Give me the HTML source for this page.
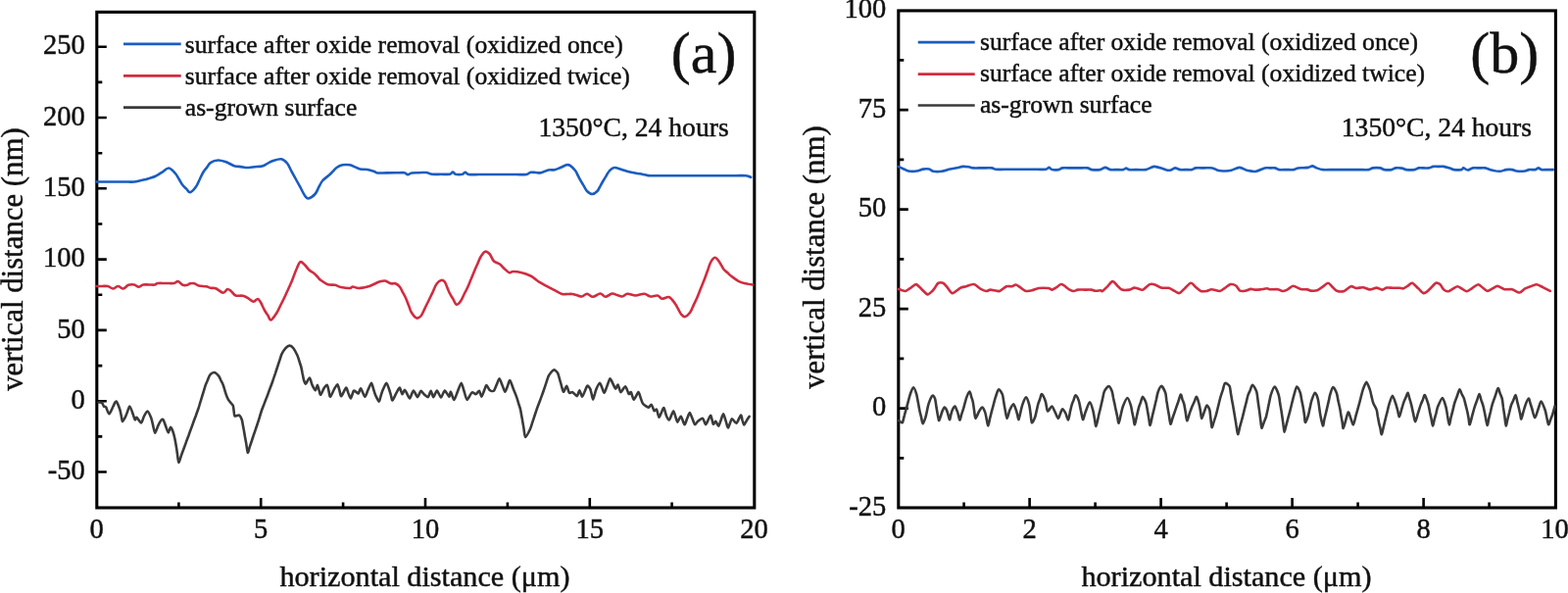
<!DOCTYPE html>
<html><head><meta charset="utf-8"><style>
html,body{margin:0;padding:0;background:#fff;}
body{width:1600px;height:605px;overflow:hidden;}
svg{display:block;}
text{font-family:"Liberation Serif","Times New Roman",serif;fill:#111;stroke:#111;stroke-width:0.45px;}
.tk{font-size:28.5px;}
.lg{font-size:25.6px;}
.pl{font-size:60px;}
.nt{font-size:27.6px;}
.at{font-size:30.2px;}
.ay{font-size:30.8px;}
</style></head><body>
<svg width="1600" height="605" viewBox="0 0 1600 605">
<rect width="1600" height="605" fill="#fff"/>
<rect x="98.8" y="12.3" width="671.0" height="505.7" fill="none" stroke="#000" stroke-width="3.1" stroke-linejoin="miter"/>
<path d="M266.2 518.0V508.0M434.0 518.0V508.0M601.8 518.0V508.0M182.4 518.0V512.5M350.1 518.0V512.5M517.9 518.0V512.5M685.6 518.0V512.5M98.8 481.5H108.8M98.8 409.2H108.8M98.8 336.9H108.8M98.8 264.6H108.8M98.8 192.3H108.8M98.8 120.0H108.8M98.8 47.7H108.8M98.8 445.4H104.3M98.8 373.1H104.3M98.8 300.8H104.3M98.8 228.5H104.3M98.8 156.2H104.3M98.8 83.9H104.3" stroke="#000" stroke-width="2.6" fill="none"/>
<text x="98.5" y="549" class="tk" text-anchor="middle">0</text>
<text x="266.2" y="549" class="tk" text-anchor="middle">5</text>
<text x="434.0" y="549" class="tk" text-anchor="middle">10</text>
<text x="601.8" y="549" class="tk" text-anchor="middle">15</text>
<text x="769.5" y="549" class="tk" text-anchor="middle">20</text>
<text x="86.7" y="489.1" class="tk" text-anchor="end">-50</text>
<text x="86.7" y="416.8" class="tk" text-anchor="end">0</text>
<text x="86.7" y="344.5" class="tk" text-anchor="end">50</text>
<text x="86.7" y="272.2" class="tk" text-anchor="end">100</text>
<text x="86.7" y="199.9" class="tk" text-anchor="end">150</text>
<text x="86.7" y="127.6" class="tk" text-anchor="end">200</text>
<text x="86.7" y="55.3" class="tk" text-anchor="end">250</text>
<rect x="916.8" y="10.9" width="670.6" height="507.1" fill="none" stroke="#000" stroke-width="3.1" stroke-linejoin="miter"/>
<path d="M1050.6 518.0V508.0M1184.6 518.0V508.0M1318.6 518.0V508.0M1452.6 518.0V508.0M983.6 518.0V512.5M1117.6 518.0V512.5M1251.6 518.0V512.5M1385.6 518.0V512.5M1519.6 518.0V512.5M916.8 416.6H926.8M916.8 315.1H926.8M916.8 213.6H926.8M916.8 112.1H926.8M916.8 467.4H922.3M916.8 365.9H922.3M916.8 264.4H922.3M916.8 162.9H922.3M916.8 61.4H922.3" stroke="#000" stroke-width="2.6" fill="none"/>
<text x="916.6" y="549" class="tk" text-anchor="middle">0</text>
<text x="1050.6" y="549" class="tk" text-anchor="middle">2</text>
<text x="1184.6" y="549" class="tk" text-anchor="middle">4</text>
<text x="1318.6" y="549" class="tk" text-anchor="middle">6</text>
<text x="1452.6" y="549" class="tk" text-anchor="middle">8</text>
<text x="1586.6" y="549" class="tk" text-anchor="middle">10</text>
<text x="904.3" y="525.7" class="tk" text-anchor="end">-25</text>
<text x="904.3" y="424.2" class="tk" text-anchor="end">0</text>
<text x="904.3" y="322.7" class="tk" text-anchor="end">25</text>
<text x="904.3" y="221.2" class="tk" text-anchor="end">50</text>
<text x="904.3" y="119.7" class="tk" text-anchor="end">75</text>
<text x="904.3" y="18.2" class="tk" text-anchor="end">100</text>
<path d="M98.0 185.5C99.6 185.5 104.5 185.5 107.8 185.5C111.0 185.5 114.2 185.5 117.5 185.5C120.8 185.5 124.0 185.5 127.2 185.5C130.5 185.5 134.5 185.7 137.0 185.5C139.5 185.3 140.5 184.8 142.2 184.4C144.0 184.0 145.8 183.8 147.5 183.3C149.2 182.8 151.0 182.2 152.8 181.7C154.5 181.1 155.9 181.0 158.0 180.0C160.1 179.0 162.8 177.2 165.2 175.8C167.5 174.3 170.0 171.3 172.3 171.5C174.6 171.7 177.3 175.1 179.0 177.0C180.7 178.9 181.5 181.0 182.8 183.0C184.0 185.0 185.2 187.4 186.5 189.0C187.8 190.6 189.0 191.4 190.2 192.6C191.5 193.8 192.4 196.5 194.0 196.2C195.6 195.8 198.4 192.7 200.0 190.5C201.6 188.3 202.5 185.5 203.8 183.0C205.0 180.5 206.2 177.6 207.5 175.5C208.8 173.4 210.0 172.2 211.2 170.6C212.5 169.0 213.1 166.9 215.0 165.8C216.9 164.6 220.0 163.6 222.5 163.5C225.0 163.4 227.2 164.1 230.0 165.0C232.8 165.9 236.4 168.3 239.0 169.2C241.6 170.0 243.5 169.8 245.8 170.1C248.0 170.4 250.1 171.0 252.5 171.0C254.9 171.0 257.5 170.5 260.0 170.2C262.5 170.0 265.4 170.1 267.5 169.5C269.6 168.9 271.0 167.8 272.8 166.9C274.5 166.0 275.6 165.0 278.0 164.2C280.4 163.5 284.5 161.9 287.0 162.3C289.5 162.7 291.2 164.4 293.0 166.5C294.8 168.6 296.0 172.0 297.5 174.8C299.0 177.5 300.5 180.2 302.0 183.0C303.5 185.8 305.0 188.5 306.5 191.2C308.0 194.0 309.6 197.6 311.0 199.5C312.4 201.4 312.9 202.8 314.7 202.5C316.4 202.2 319.7 199.9 321.5 198.0C323.3 196.1 324.0 193.5 325.2 191.2C326.5 189.0 327.2 186.6 329.0 184.5C330.8 182.4 334.2 180.1 336.0 178.5C337.8 176.9 338.5 176.0 339.8 174.8C341.0 173.5 341.9 172.1 343.5 171.0C345.1 169.9 347.2 168.8 349.5 168.3C351.8 167.9 354.9 168.0 357.0 168.3C359.1 168.7 360.5 169.7 362.2 170.4C364.0 171.1 365.4 172.1 367.5 172.5C369.6 172.9 372.5 172.6 375.0 173.0C377.5 173.4 380.8 174.6 382.5 175.2C384.2 175.8 383.5 176.3 385.5 176.5C387.5 176.7 391.5 176.4 394.5 176.4C397.5 176.4 400.5 176.4 403.5 176.3C406.5 176.3 410.4 175.9 412.5 176.2C414.6 176.6 414.9 178.2 416.2 178.2C417.4 178.2 418.1 176.8 420.0 176.5C421.9 176.2 425.0 176.3 427.5 176.2C430.0 176.2 432.8 175.8 435.0 176.0C437.2 176.2 438.5 177.5 441.0 177.8C443.5 178.0 447.0 177.8 450.0 177.8C453.0 177.8 457.0 178.1 459.0 177.8C461.0 177.4 461.0 175.5 462.0 175.5C463.0 175.5 463.4 177.4 465.0 177.8C466.6 178.1 470.1 178.1 471.8 177.8C473.4 177.4 473.6 175.8 474.8 175.8C475.9 175.8 476.2 177.6 478.5 178.0C480.8 178.4 485.0 178.0 488.2 178.0C491.5 178.0 494.8 178.0 498.0 178.0C501.2 178.0 504.5 178.0 507.8 178.0C511.0 178.0 514.2 178.0 517.5 178.0C520.8 178.0 524.0 178.0 527.2 178.0C530.5 178.0 534.6 178.4 537.0 178.0C539.4 177.6 539.9 176.1 541.5 175.8C543.1 175.5 545.0 176.0 546.8 176.0C548.5 176.1 549.9 176.7 552.0 176.2C554.1 175.8 557.2 174.0 559.5 173.5C561.8 173.0 563.9 173.7 566.0 173.2C568.1 172.8 570.0 171.8 572.0 171.0C574.0 170.2 576.4 168.7 578.0 168.3C579.6 167.9 580.2 167.8 581.8 168.8C583.2 169.7 585.6 172.2 587.0 174.0C588.4 175.8 589.0 177.8 590.0 179.6C591.0 181.5 592.0 183.5 593.0 185.2C594.0 187.0 595.0 188.5 596.0 190.1C597.0 191.8 597.6 193.7 599.0 195.0C600.4 196.3 602.5 198.0 604.2 198.0C606.0 198.0 608.1 196.4 609.5 195.0C610.9 193.6 611.5 191.5 612.5 189.8C613.5 188.0 614.5 186.2 615.5 184.5C616.5 182.8 617.5 181.2 618.5 179.6C619.5 178.0 620.1 176.2 621.5 174.8C622.9 173.3 624.5 171.2 626.8 171.0C629.0 170.8 632.1 172.4 635.0 173.2C637.9 174.1 641.0 175.1 644.0 175.8C647.0 176.5 650.6 176.9 653.0 177.3C655.4 177.7 656.5 178.0 658.2 178.3C660.0 178.6 661.0 179.1 663.5 179.2C666.0 179.4 670.0 179.2 673.2 179.2C676.5 179.2 679.8 179.2 683.0 179.2C686.2 179.2 689.5 179.2 692.8 179.2C696.0 179.2 699.2 179.2 702.5 179.2C705.8 179.2 709.0 179.2 712.2 179.2C715.5 179.2 718.8 179.2 722.0 179.2C725.2 179.2 728.5 179.2 731.8 179.2C735.0 179.2 738.2 179.2 741.5 179.2C744.8 179.2 748.0 179.2 751.2 179.2C754.5 179.2 758.5 179.0 761.0 179.2C763.5 179.5 765.4 180.5 766.2 180.8" stroke="#1a5cc0" stroke-width="2.6" fill="none" stroke-linejoin="round" stroke-linecap="round"/>
<path d="M98.0 292.0C99.0 292.0 102.0 292.0 104.0 292.0C106.0 292.0 108.1 291.6 110.0 292.0C111.9 292.4 113.5 294.5 115.2 294.5C117.0 294.5 118.8 292.0 120.5 292.0C122.2 292.0 124.0 294.7 125.8 294.5C127.5 294.3 129.1 291.5 131.0 290.8C132.9 290.1 135.2 290.2 137.0 290.5C138.8 290.8 140.0 292.8 141.5 292.8C143.0 292.8 144.2 290.9 146.0 290.5C147.8 290.1 150.0 290.5 152.0 290.5C154.0 290.5 156.5 290.8 158.0 290.5C159.5 290.2 159.1 289.2 161.0 289.0C162.9 288.8 166.5 289.0 169.2 289.0C172.0 289.0 175.4 289.3 177.5 289.0C179.6 288.7 180.2 286.7 181.7 287.0C183.2 287.3 184.9 290.2 186.5 290.8C188.1 291.4 189.8 291.1 191.0 290.8C192.2 290.6 192.8 289.6 194.0 289.3C195.2 289.1 197.0 288.9 198.5 289.3C200.0 289.7 201.0 291.0 203.0 291.5C205.0 292.0 208.5 291.9 210.5 292.3C212.5 292.7 213.4 293.5 215.0 293.8C216.6 294.1 218.1 293.4 220.2 294.2C222.4 295.1 225.8 298.6 227.8 298.8C229.8 298.9 230.9 295.2 232.2 295.0C233.6 294.8 234.6 296.2 236.0 297.2C237.4 298.3 238.5 300.8 240.5 301.5C242.5 302.2 245.8 301.2 248.0 301.8C250.2 302.3 252.2 303.8 254.0 304.8C255.8 305.8 257.0 307.7 258.5 307.8C260.0 307.8 261.8 304.9 263.0 305.0C264.2 305.1 265.1 307.2 266.0 308.5C266.9 309.8 267.5 311.5 268.2 313.0C269.0 314.5 269.6 316.0 270.5 317.5C271.4 319.0 272.5 320.5 273.5 322.0C274.5 323.5 275.0 327.0 276.5 326.5C278.0 326.0 280.9 321.5 282.5 319.0C284.1 316.5 285.0 314.0 286.2 311.5C287.5 309.0 288.8 306.6 290.0 304.0C291.2 301.4 292.5 298.5 293.8 295.8C295.0 293.0 296.4 290.0 297.5 287.5C298.6 285.0 299.2 283.0 300.1 280.8C301.0 278.5 301.7 276.2 302.8 274.0C303.8 271.8 305.1 267.9 306.5 267.2C307.9 266.6 309.5 268.9 311.0 270.2C312.5 271.6 314.0 274.1 315.5 275.5C317.0 276.9 318.6 277.4 320.0 278.5C321.4 279.6 322.5 281.0 323.8 282.2C325.0 283.5 325.7 284.7 327.5 286.0C329.3 287.3 332.1 289.4 334.5 290.2C336.9 291.0 339.8 290.3 342.0 290.8C344.2 291.3 345.5 292.5 348.0 293.0C350.5 293.5 355.0 294.1 357.0 294.0C359.0 293.9 358.5 292.5 360.0 292.5C361.5 292.5 363.5 294.0 366.0 294.0C368.5 294.0 372.5 293.1 375.0 292.5C377.5 291.9 379.0 291.0 381.0 290.2C383.0 289.4 385.0 288.1 387.0 287.5C389.0 286.9 391.0 286.2 393.0 286.5C395.0 286.8 397.2 288.8 399.0 289.3C400.8 289.8 402.0 288.7 403.5 289.3C405.0 289.9 406.8 291.2 408.0 292.8C409.2 294.3 410.0 296.5 411.0 298.4C412.0 300.2 413.0 301.8 414.0 304.0C415.0 306.2 416.0 309.0 417.0 311.5C418.0 314.0 418.6 316.8 420.0 319.0C421.4 321.2 423.6 324.0 425.2 324.5C426.9 325.0 428.3 323.8 429.8 322.0C431.2 320.2 432.5 316.5 433.9 313.8C435.2 311.0 436.7 308.2 438.0 305.5C439.3 302.8 440.5 300.2 441.8 297.6C443.0 295.0 444.1 291.7 445.5 289.8C446.9 287.8 448.6 286.4 450.0 286.0C451.4 285.6 452.7 286.2 453.8 287.5C454.8 288.8 455.5 291.5 456.4 293.5C457.2 295.5 458.0 297.6 459.0 299.5C460.0 301.4 461.2 303.2 462.4 305.1C463.5 307.0 464.4 310.4 465.8 310.8C467.1 311.1 468.9 308.8 470.2 307.0C471.6 305.2 472.5 302.5 473.6 300.2C474.8 298.0 475.8 296.1 477.0 293.5C478.2 290.9 479.5 287.5 480.8 284.5C482.0 281.5 483.4 278.1 484.5 275.5C485.6 272.9 486.5 271.0 487.5 268.8C488.5 266.5 489.2 264.0 490.5 262.0C491.8 260.0 493.5 257.2 495.0 256.8C496.5 256.2 498.0 257.4 499.5 259.0C501.0 260.6 502.2 264.8 504.0 266.5C505.8 268.2 508.2 268.2 510.0 269.5C511.8 270.8 512.9 272.6 514.5 274.0C516.1 275.4 518.2 277.7 519.8 278.2C521.2 278.7 521.4 277.0 523.5 277.0C525.6 277.0 529.5 277.4 532.5 278.2C535.5 278.9 539.2 280.4 541.5 281.5C543.8 282.6 544.5 283.6 546.0 284.6C547.5 285.7 549.0 286.9 550.5 287.8C552.0 288.7 553.5 289.4 555.0 290.3C556.5 291.1 557.7 291.8 559.5 292.8C561.3 293.7 563.7 295.0 566.0 296.2C568.3 297.4 571.4 299.4 573.5 300.0C575.6 300.6 577.0 300.0 578.8 300.0C580.5 300.0 582.3 299.8 584.0 300.0C585.7 300.2 587.2 300.8 588.9 301.2C590.5 301.7 592.1 302.7 593.8 302.5C595.4 302.3 597.1 299.8 599.0 299.8C600.9 299.9 602.8 302.9 605.0 302.8C607.2 302.8 610.4 299.5 612.5 299.5C614.6 299.5 615.8 302.8 617.8 302.8C619.8 302.8 622.5 299.8 624.5 299.5C626.5 299.2 628.0 300.5 629.8 301.0C631.5 301.5 633.2 302.7 635.0 302.5C636.8 302.3 638.0 300.0 640.2 299.8C642.5 299.6 645.6 301.5 648.5 301.5C651.4 301.5 655.0 299.6 657.5 299.8C660.0 300.0 661.2 302.2 663.5 302.5C665.8 302.8 669.0 301.1 671.0 301.5C673.0 301.9 673.5 304.5 675.5 304.8C677.5 305.0 680.8 302.4 683.0 303.2C685.2 304.1 687.5 308.0 689.0 310.0C690.5 312.0 691.0 313.5 692.0 315.2C693.0 317.0 693.9 319.2 695.0 320.5C696.1 321.8 697.2 323.4 698.8 323.2C700.2 322.9 702.5 321.0 704.0 319.0C705.5 317.0 706.5 313.8 707.8 311.1C709.0 308.5 710.5 305.6 711.5 303.2C712.5 300.9 713.2 299.1 714.0 297.0C714.8 294.9 715.7 292.8 716.5 290.8C717.3 288.7 718.1 286.9 719.0 284.5C719.9 282.1 721.0 279.0 722.0 276.2C723.0 273.5 723.8 270.2 725.0 268.0C726.2 265.8 728.0 262.9 729.5 262.8C731.0 262.6 732.5 265.2 734.0 267.2C735.5 269.2 737.1 272.9 738.5 274.8C739.9 276.6 741.0 277.0 742.2 278.1C743.5 279.2 744.1 280.1 746.0 281.5C747.9 282.9 751.0 285.4 753.5 286.8C756.0 288.1 758.6 288.7 761.0 289.3C763.4 289.9 766.6 290.3 767.8 290.5" stroke="#d02c40" stroke-width="2.6" fill="none" stroke-linejoin="round" stroke-linecap="round"/>
<path d="M100.5 410.5C100.9 410.5 103.5 410.4 104.1 410.9C104.7 411.4 105.4 414.0 105.9 414.5C106.4 415.0 107.6 414.6 108.2 415.5C108.8 416.4 110.5 422.4 111.4 422.3C112.3 422.2 114.7 416.0 115.5 414.5C116.3 413.0 117.8 409.1 118.6 409.5C119.4 409.9 121.7 416.0 122.3 417.7C122.9 419.4 123.3 422.4 123.7 423.9C124.0 425.3 124.5 429.8 125.0 430.0C125.5 430.2 127.1 427.0 127.7 425.9C128.3 424.8 129.5 421.5 130.0 420.2C130.5 418.9 131.7 414.5 132.3 414.5C132.9 414.5 134.4 418.9 135.0 420.5C135.6 422.1 137.2 427.6 137.7 428.2C138.2 428.8 138.8 425.5 139.5 425.9C140.2 426.3 143.2 431.5 144.1 431.4C145.0 431.3 146.1 426.4 146.8 425.0C147.5 423.6 149.6 419.4 150.5 419.5C151.4 419.6 153.4 424.2 154.1 425.9C154.8 427.6 155.7 432.0 156.1 433.9C156.6 435.7 157.6 441.8 158.2 441.8C158.8 441.8 160.6 435.7 161.4 434.1C162.2 432.5 164.4 428.8 165.0 428.2C165.6 427.6 166.3 427.7 166.8 428.6C167.3 429.5 168.9 434.4 169.5 435.9C170.1 437.4 171.3 441.4 171.8 441.4C172.3 441.4 173.5 435.9 174.1 435.9C174.7 435.9 176.3 439.9 176.8 441.4C177.3 442.9 178.3 447.2 178.6 448.6C178.9 450.0 179.2 452.0 179.5 453.6C179.8 455.2 180.6 460.6 180.9 462.7C181.2 464.8 181.8 471.6 182.3 471.8C182.8 472.0 184.4 466.2 185.0 464.6C185.6 462.9 187.1 458.9 187.7 457.3C188.3 455.7 189.6 452.2 190.1 450.6C190.7 449.1 192.0 445.5 192.6 444.0C193.1 442.4 194.4 438.9 195.0 437.3C195.6 435.7 196.9 432.2 197.4 430.6C198.0 429.1 199.3 425.5 199.9 424.0C200.4 422.4 201.7 419.0 202.3 417.3C202.9 415.6 204.1 411.2 204.7 409.4C205.3 407.6 206.5 403.3 207.1 401.5C207.7 399.7 209.0 395.2 209.5 393.6C210.0 392.0 211.3 389.4 211.8 388.1C212.3 386.9 213.3 383.7 214.1 382.7C214.9 381.7 217.5 379.9 218.6 380.0C219.7 380.1 222.4 382.6 223.2 383.6C224.0 384.6 224.9 387.1 225.4 388.1C226.0 389.2 227.1 391.1 227.7 392.7C228.3 394.3 229.9 400.0 230.5 401.8C231.1 403.6 232.4 406.8 233.2 408.2C234.0 409.6 237.1 412.3 237.7 413.6C238.3 414.9 238.4 417.8 238.6 419.1C238.8 420.3 238.9 424.0 239.5 424.5C240.1 425.0 243.2 423.2 244.1 423.6C245.0 424.0 246.3 426.8 246.8 428.2C247.3 429.6 247.8 433.8 248.2 435.4C248.5 437.1 249.2 440.7 249.5 442.7C249.8 444.7 250.8 450.0 251.2 452.2C251.5 454.5 252.4 461.4 252.8 461.8C253.2 462.2 254.3 457.3 254.8 455.9C255.3 454.5 256.3 451.5 256.8 450.0C257.3 448.5 258.7 444.4 259.2 442.7C259.8 441.0 261.1 437.2 261.7 435.5C262.2 433.8 263.5 430.2 264.1 428.2C264.7 426.2 266.3 420.7 267.0 418.7C267.7 416.7 269.3 412.9 269.9 411.1C270.6 409.3 272.2 405.2 272.9 403.5C273.6 401.8 274.9 397.9 275.5 396.2C276.2 394.6 277.6 390.8 278.2 389.0C278.8 387.2 280.2 382.9 280.9 381.1C281.5 379.2 283.0 374.7 283.5 373.1C284.0 371.5 285.0 368.5 285.5 367.1C286.0 365.8 286.8 362.6 287.5 361.2C288.2 359.8 290.6 356.2 291.5 355.2C292.4 354.2 294.5 352.6 295.4 352.6C296.3 352.6 298.5 354.0 299.4 355.2C300.3 356.4 302.7 361.0 303.4 362.5C304.1 364.0 304.9 367.1 305.4 368.4C305.8 369.8 306.9 372.9 307.3 374.4C307.7 375.9 308.3 379.5 308.6 381.0C309.0 382.5 309.6 386.4 310.0 387.6C310.4 388.8 311.3 391.8 312.0 391.6C312.7 391.4 315.1 385.4 315.9 385.6C316.7 385.8 317.9 391.4 318.6 392.9C319.3 394.4 321.3 398.2 321.9 398.2C322.5 398.2 323.5 392.9 323.9 392.9C324.3 392.9 325.2 396.7 325.5 397.9C325.9 399.0 326.6 403.0 327.2 402.8C327.8 402.6 329.7 397.4 330.5 396.2C331.3 395.0 333.2 392.6 333.8 392.9C334.4 393.2 335.1 397.5 335.5 398.9C335.8 400.2 336.4 405.0 337.1 404.8C337.8 404.6 340.2 398.4 341.1 396.9C342.0 395.4 343.8 392.0 344.4 392.2C345.0 392.4 345.9 396.8 346.4 398.2C346.8 399.6 347.5 404.5 348.3 404.2C349.1 403.9 352.2 396.0 353.0 395.6C353.8 395.2 354.9 399.7 355.4 401.0C356.0 402.3 357.3 406.6 357.9 406.4C358.5 406.2 360.2 399.7 360.8 398.9C361.4 398.1 362.7 399.5 363.3 399.8C363.9 400.1 365.1 401.8 365.7 401.4C366.3 401.0 367.4 396.0 368.2 396.4C369.0 396.8 371.5 404.6 372.4 404.7C373.3 404.8 374.9 398.9 375.7 397.3C376.5 395.7 378.4 390.7 379.0 390.7C379.6 390.7 380.6 395.5 381.1 396.9C381.5 398.3 382.4 401.6 383.1 403.1C383.8 404.6 386.2 409.6 386.8 409.7C387.4 409.8 388.2 405.3 388.6 403.9C389.1 402.5 389.8 399.6 390.5 398.1C391.2 396.6 393.5 390.8 394.3 390.7C395.1 390.6 396.6 395.9 397.1 397.3C397.6 398.7 398.4 401.6 398.8 402.9C399.2 404.1 399.8 408.7 400.5 408.4C401.2 408.1 403.7 402.1 404.6 400.6C405.5 399.1 407.2 395.4 407.9 395.6C408.6 395.8 409.8 402.0 410.4 402.2C411.0 402.4 412.3 397.7 412.9 397.7C413.5 397.7 414.9 401.0 415.5 402.0C416.2 403.1 417.5 406.8 418.2 406.4C418.9 406.0 421.0 398.7 421.9 398.5C422.8 398.3 425.2 405.1 426.1 405.1C427.0 405.1 428.6 399.2 429.4 398.9C430.2 398.6 431.8 401.5 432.7 402.2C433.6 402.9 436.0 405.5 436.8 405.1C437.6 404.7 439.1 398.9 439.7 398.9C440.3 398.9 441.5 405.1 442.2 405.1C442.9 405.1 445.0 398.5 445.9 398.5C446.8 398.5 449.1 405.5 450.0 405.5C450.9 405.5 452.8 398.6 453.8 398.5C454.8 398.4 457.6 404.5 458.3 404.7C459.0 404.9 459.4 399.4 460.0 399.8C460.6 400.2 462.5 408.1 463.3 408.0C464.1 407.9 466.1 401.4 467.0 399.4C467.9 397.3 469.9 390.7 470.7 390.7C471.5 390.7 473.0 397.3 473.6 399.3C474.3 401.3 475.7 407.8 476.6 407.9C477.5 408.0 480.4 401.2 481.5 400.5C482.6 399.8 484.8 402.3 485.7 402.1C486.6 401.9 488.3 398.5 489.0 398.8C489.7 399.1 490.8 404.6 491.4 404.6C492.0 404.6 493.3 400.2 493.9 398.9C494.5 397.5 495.7 393.2 496.4 393.1C497.1 393.0 498.8 397.3 499.7 398.0C500.6 398.7 503.0 399.4 503.8 398.8C504.6 398.2 506.0 394.0 506.7 392.6C507.4 391.2 508.9 386.3 509.6 386.4C510.3 386.5 511.8 391.5 512.5 393.0C513.2 394.6 514.8 399.6 515.4 399.7C516.0 399.8 517.3 395.3 517.9 393.9C518.5 392.5 519.7 387.8 520.4 388.1C521.1 388.4 522.9 394.4 523.7 396.4C524.5 398.3 526.4 402.9 527.0 404.6C527.6 406.3 528.6 409.7 529.0 411.2C529.5 412.8 530.7 416.0 531.1 417.9C531.5 419.8 532.4 425.1 532.8 427.3C533.2 429.5 534.0 434.4 534.4 436.6C534.8 438.8 535.3 445.9 536.1 446.0C536.9 446.1 540.2 439.4 541.0 437.7C541.8 436.0 542.7 432.6 543.2 431.1C543.7 429.6 544.9 426.0 545.4 424.5C545.9 423.0 547.0 419.7 547.6 417.9C548.2 416.1 550.2 410.9 551.0 408.8C551.7 406.7 553.6 401.7 554.3 399.7C555.0 397.7 556.5 393.3 557.1 391.4C557.8 389.5 559.1 384.7 560.0 383.1C560.9 381.5 563.9 377.7 565.0 377.4C566.1 377.1 568.3 379.2 569.1 380.7C569.9 382.2 571.3 388.0 572.0 390.2C572.7 392.4 574.2 399.3 574.9 399.7C575.6 400.1 577.5 393.8 578.2 393.9C578.9 394.0 580.1 400.0 580.8 400.7C581.5 401.4 583.4 399.7 584.3 400.1C585.2 400.5 588.1 404.3 588.9 404.1C589.7 403.9 590.6 398.3 591.2 398.4C591.8 398.5 593.5 404.6 594.1 404.7C594.7 404.8 596.1 400.5 596.7 399.2C597.3 397.9 598.7 394.0 599.3 393.7C599.9 393.4 601.7 395.6 602.2 396.6C602.7 397.6 603.3 400.8 603.7 402.1C604.0 403.4 604.7 407.6 605.1 407.6C605.5 407.6 606.4 403.4 606.9 402.1C607.3 400.8 608.0 397.9 608.6 396.6C609.2 395.3 611.3 390.9 612.0 390.8C612.7 390.7 613.8 394.6 614.4 395.8C614.9 396.9 616.1 401.0 616.7 400.7C617.3 400.4 618.9 395.1 619.6 393.4C620.3 391.8 621.8 386.4 622.5 386.2C623.2 386.0 624.7 390.2 625.4 391.4C626.0 392.6 627.6 396.5 628.2 396.6C628.8 396.7 630.0 392.2 630.6 392.6C631.2 393.0 632.5 399.9 633.4 400.1C634.3 400.3 637.1 394.1 638.1 394.3C639.1 394.5 640.9 401.1 641.6 401.8C642.3 402.5 643.3 399.4 643.9 400.1C644.5 400.8 645.9 407.6 646.8 407.6C647.7 407.6 650.6 400.3 651.4 400.1C652.2 399.9 653.2 404.5 653.7 405.9C654.2 407.3 655.1 410.6 656.0 411.7C656.9 412.8 660.8 415.6 661.8 415.7C662.8 415.8 664.0 412.4 664.7 412.8C665.4 413.2 666.9 418.4 667.5 419.0C668.1 419.6 669.4 417.0 670.0 417.8C670.6 418.6 671.8 425.2 672.4 425.6C673.0 426.0 674.3 422.0 674.9 420.9C675.5 419.7 676.8 415.7 677.4 416.1C678.0 416.5 679.3 422.6 679.9 424.0C680.5 425.4 682.2 428.5 682.8 428.5C683.4 428.5 684.5 425.0 685.0 423.9C685.6 422.9 686.8 419.3 687.3 419.4C687.8 419.5 688.9 423.7 689.3 425.0C689.8 426.3 690.8 430.6 691.4 430.6C692.0 430.6 694.0 424.5 694.8 424.8C695.6 425.1 697.8 432.8 698.5 433.1C699.2 433.4 700.5 428.5 701.1 427.1C701.8 425.7 703.2 421.1 703.8 421.1C704.4 421.1 705.9 425.7 706.5 427.1C707.1 428.5 708.5 432.8 709.2 433.1C709.9 433.4 711.2 430.5 712.1 429.8C713.0 429.1 716.2 426.5 717.1 426.9C718.0 427.3 719.4 432.9 720.0 433.1C720.6 433.3 722.0 429.6 722.6 428.6C723.3 427.5 724.7 423.5 725.3 424.0C725.9 424.5 727.2 431.9 727.8 432.6C728.4 433.3 729.7 429.6 730.3 429.8C730.9 430.0 732.6 434.9 733.2 434.7C733.8 434.5 735.1 429.9 735.7 428.5C736.2 427.1 737.5 422.2 738.1 422.3C738.7 422.4 740.0 427.7 740.6 429.4C741.2 431.0 742.4 436.6 743.1 436.4C743.8 436.2 745.8 427.8 746.8 427.3C747.8 426.8 750.3 432.2 751.4 431.8C752.5 431.4 755.2 424.0 755.9 423.6C756.6 423.2 757.2 427.4 757.5 428.6C757.9 429.7 758.7 433.4 759.2 433.5C759.7 433.6 761.3 430.2 761.9 429.1C762.5 428.1 764.3 425.3 764.6 424.8" stroke="#3a3a3a" stroke-width="2.6" fill="none" stroke-linejoin="round" stroke-linecap="round"/>
<path d="M916.4 169.9C917.1 170.2 920.3 171.6 921.7 172.2C923.1 172.8 925.2 174.2 927.0 174.5C928.8 174.8 933.5 174.8 935.5 174.5C937.5 174.2 940.2 172.9 941.9 172.6C943.6 172.3 946.8 172.3 948.2 172.6C949.6 172.9 950.8 174.5 952.5 174.8C954.2 175.1 958.7 175.1 961.0 174.8C963.3 174.5 967.2 173.1 969.5 172.6C971.8 172.1 976.3 171.3 978.0 170.9C979.7 170.5 980.8 170.0 982.2 169.9C983.6 169.8 987.2 170.1 988.6 170.3C990.0 170.5 991.1 171.3 992.9 171.4C994.7 171.5 999.9 171.4 1002.5 171.4C1005.0 171.4 1010.2 171.2 1012.0 171.4C1013.8 171.6 1014.5 172.6 1016.2 172.8C1017.9 173.0 1022.4 172.8 1024.7 172.8C1027.0 172.8 1030.9 172.8 1033.2 172.8C1035.5 172.8 1039.4 172.8 1041.7 172.8C1044.0 172.8 1047.9 172.8 1050.2 172.8C1052.5 172.8 1056.4 172.8 1058.7 172.8C1061.0 172.8 1065.6 173.1 1067.2 172.8C1068.8 172.5 1069.5 170.9 1070.4 170.9C1071.3 170.9 1072.3 172.8 1073.6 173.1C1074.9 173.4 1078.6 173.3 1080.0 173.1C1081.4 172.9 1082.5 171.6 1084.2 171.4C1085.9 171.2 1090.4 171.4 1092.7 171.4C1095.0 171.4 1098.9 171.4 1101.2 171.4C1103.5 171.4 1108.0 171.2 1109.7 171.4C1111.4 171.6 1112.3 172.9 1114.0 173.1C1115.7 173.3 1120.7 173.4 1122.5 173.1C1124.3 172.8 1126.4 170.9 1127.8 170.9C1129.2 170.9 1131.5 172.8 1133.1 173.1C1134.7 173.4 1137.8 173.1 1139.5 173.1C1141.2 173.1 1144.6 173.3 1145.9 173.1C1147.2 172.9 1148.3 171.6 1149.1 171.6C1149.9 171.6 1150.7 172.9 1152.2 173.1C1153.7 173.3 1158.4 173.1 1160.7 173.1C1163.0 173.1 1166.9 173.5 1169.2 173.1C1171.5 172.7 1175.4 170.0 1177.7 169.9C1180.0 169.8 1184.5 171.5 1186.2 172.0C1187.9 172.5 1189.4 173.3 1190.5 173.5C1191.6 173.7 1193.6 173.8 1194.7 173.5C1195.8 173.2 1197.7 171.5 1199.0 171.4C1200.3 171.3 1202.8 172.9 1204.3 173.1C1205.8 173.3 1208.6 173.1 1210.2 173.1C1211.7 173.1 1214.7 173.3 1216.0 173.1C1217.3 172.9 1218.5 171.6 1220.2 171.4C1221.9 171.2 1226.4 171.4 1228.7 171.4C1231.0 171.4 1235.2 171.0 1237.2 171.4C1239.2 171.8 1241.9 173.7 1243.6 174.1C1245.3 174.5 1248.3 174.6 1250.0 174.5C1251.7 174.4 1254.4 174.2 1256.4 173.7C1258.4 173.2 1262.6 170.8 1264.9 170.9C1267.2 171.0 1271.1 173.6 1273.4 174.1C1275.7 174.6 1279.6 175.2 1281.9 174.8C1284.2 174.4 1288.6 171.9 1290.4 171.4C1292.2 170.9 1294.3 171.4 1295.7 171.4C1297.1 171.4 1299.7 171.2 1301.0 171.4C1302.3 171.6 1303.6 172.9 1305.2 173.1C1306.8 173.3 1310.7 173.1 1312.7 173.1C1314.6 173.1 1318.5 173.3 1320.1 173.1C1321.7 172.9 1323.1 171.7 1324.4 171.4C1325.7 171.1 1328.3 171.2 1329.7 171.2C1331.1 171.1 1333.7 171.1 1335.0 170.9C1336.3 170.7 1338.1 169.3 1339.2 169.4C1340.3 169.5 1342.1 170.9 1343.5 171.4C1344.9 171.9 1347.8 172.9 1349.9 173.1C1352.0 173.3 1356.7 173.1 1359.2 173.1C1361.7 173.1 1366.1 173.1 1368.6 173.1C1371.1 173.1 1375.4 173.1 1377.9 173.1C1380.4 173.1 1384.8 173.1 1387.3 173.1C1389.8 173.1 1394.8 173.3 1396.6 173.1C1398.4 172.9 1399.3 171.6 1400.9 171.4C1402.5 171.2 1406.7 171.2 1408.3 171.4C1409.9 171.6 1411.0 172.9 1412.6 173.1C1414.2 173.3 1418.5 173.3 1420.0 173.1C1421.5 172.9 1422.8 171.6 1424.2 171.4C1425.6 171.2 1429.2 171.4 1430.6 171.6C1432.0 171.8 1433.2 172.9 1434.9 173.1C1436.6 173.3 1441.7 173.3 1443.4 173.1C1445.1 172.9 1446.3 171.6 1447.6 171.4C1448.9 171.2 1451.5 171.4 1452.9 171.4C1454.3 171.4 1456.9 171.6 1458.2 171.4C1459.5 171.2 1461.2 170.1 1462.5 169.9C1463.8 169.7 1466.4 169.9 1467.8 169.9C1469.2 169.9 1471.5 169.7 1473.1 169.9C1474.7 170.1 1478.1 171.2 1479.5 171.6C1480.9 172.0 1482.1 172.9 1483.7 173.1C1485.3 173.3 1489.9 173.3 1491.2 173.1C1492.5 172.9 1492.4 171.3 1493.3 171.4C1494.2 171.5 1496.3 173.5 1497.6 173.5C1498.9 173.5 1501.3 171.7 1502.9 171.4C1504.5 171.1 1507.6 171.4 1509.2 171.4C1510.9 171.4 1513.9 171.1 1515.6 171.4C1517.3 171.7 1520.0 173.0 1522.0 173.5C1524.0 174.0 1528.5 174.9 1530.5 174.8C1532.5 174.7 1535.2 173.3 1536.9 173.1C1538.6 172.9 1541.8 172.9 1543.2 173.1C1544.6 173.3 1545.8 174.3 1547.5 174.5C1549.2 174.7 1554.3 174.7 1556.0 174.5C1557.7 174.3 1558.8 173.3 1560.2 173.1C1561.6 172.9 1565.3 173.3 1566.6 173.1C1567.9 172.9 1568.9 171.4 1569.8 171.4C1570.7 171.4 1571.8 172.9 1573.0 173.1C1574.2 173.3 1577.3 173.1 1578.8 173.1C1580.4 173.1 1583.9 173.1 1584.7 173.1" stroke="#1a5cc0" stroke-width="2.6" fill="none" stroke-linejoin="round" stroke-linecap="round"/>
<path d="M916.9 294.9C917.8 295.2 922.1 297.2 923.8 297.0C925.5 296.8 927.8 294.5 929.3 293.6C930.8 292.6 933.3 289.9 934.8 290.1C936.3 290.3 939.1 293.9 940.6 295.2C942.2 296.6 945.1 300.2 946.5 300.4C947.9 300.6 950.2 298.0 951.3 297.0C952.4 296.0 953.6 294.0 954.4 292.9C955.2 291.8 956.4 289.3 957.5 288.8C958.6 288.3 961.1 288.3 962.3 288.8C963.5 289.3 965.1 291.5 966.4 292.9C967.7 294.3 970.1 299.0 971.9 299.1C973.7 299.2 978.4 294.5 980.2 293.6C982.0 292.7 983.9 292.7 985.7 292.2C987.5 291.7 991.9 289.7 993.9 290.1C995.9 290.5 999.1 294.0 1000.8 294.9C1002.5 295.8 1005.0 296.9 1006.3 297.0C1007.6 297.1 1009.3 295.7 1010.4 295.6C1011.5 295.5 1013.2 296.1 1014.5 296.3C1015.8 296.5 1018.3 297.5 1020.0 297.0C1021.7 296.5 1025.2 292.8 1026.9 292.2C1028.6 291.6 1031.1 292.4 1032.4 292.2C1033.7 292.0 1035.4 290.4 1036.5 290.5C1037.6 290.6 1039.4 292.1 1040.7 292.9C1042.0 293.7 1044.5 296.2 1046.2 296.7C1047.9 297.2 1051.3 296.7 1053.1 296.3C1054.9 295.9 1057.7 294.3 1059.9 294.0C1062.1 293.7 1067.8 293.8 1069.6 294.0C1071.4 294.2 1072.5 295.8 1073.7 295.6C1074.9 295.4 1077.2 293.6 1078.5 292.9C1079.8 292.1 1081.6 289.7 1083.3 290.1C1085.0 290.5 1089.9 294.7 1091.6 295.6C1093.3 296.5 1094.6 297.0 1095.7 297.0C1096.8 297.0 1098.3 295.8 1099.8 295.6C1101.3 295.4 1104.9 295.6 1106.7 295.6C1108.5 295.6 1112.1 295.5 1113.6 295.6C1115.1 295.7 1116.4 296.6 1117.7 296.7C1119.0 296.8 1122.2 296.3 1123.2 296.3C1124.2 296.3 1124.1 297.6 1125.0 297.0C1125.9 296.4 1128.8 293.4 1130.2 292.1C1131.5 290.7 1134.0 287.2 1135.3 287.1C1136.6 287.0 1138.8 290.2 1140.1 291.4C1141.4 292.5 1143.2 295.0 1144.9 295.6C1146.6 296.2 1150.8 295.9 1152.5 295.6C1154.2 295.3 1156.2 293.8 1157.3 293.6C1158.4 293.4 1159.6 294.0 1160.8 294.3C1162.0 294.6 1164.7 296.2 1166.3 295.6C1167.9 295.0 1171.5 290.8 1173.1 290.1C1174.7 289.4 1177.0 289.9 1178.6 290.4C1180.2 290.9 1183.0 293.1 1184.8 293.6C1186.6 294.1 1190.7 293.4 1192.4 293.8C1194.1 294.2 1196.4 295.7 1197.9 296.5C1199.4 297.2 1201.9 299.4 1203.4 299.1C1204.9 298.8 1207.7 295.3 1209.2 294.0C1210.8 292.6 1213.6 288.9 1215.1 288.8C1216.6 288.7 1218.9 291.8 1220.2 292.9C1221.6 294.0 1224.0 296.5 1225.4 297.0C1226.8 297.5 1229.4 297.2 1230.9 297.0C1232.4 296.8 1234.6 295.2 1236.4 295.2C1238.2 295.2 1242.9 297.2 1244.7 297.0C1246.5 296.8 1248.7 294.5 1250.2 293.6C1251.7 292.6 1254.2 290.4 1255.7 290.1C1257.2 289.8 1259.9 290.6 1261.2 291.5C1262.5 292.4 1264.0 296.0 1265.3 296.7C1266.6 297.4 1269.3 296.9 1270.8 296.7C1272.3 296.5 1275.0 295.0 1276.3 294.9C1277.6 294.8 1279.1 295.5 1280.4 295.6C1281.7 295.7 1284.2 295.6 1285.9 295.4C1287.6 295.2 1291.5 294.3 1292.8 294.3C1294.1 294.3 1294.1 295.1 1295.6 295.2C1297.1 295.3 1302.1 295.0 1303.8 295.2C1305.5 295.4 1307.3 296.9 1308.6 297.0C1309.9 297.1 1311.9 296.3 1313.4 295.6C1314.9 294.9 1317.8 291.9 1319.6 291.8C1321.4 291.7 1325.3 294.4 1327.2 294.9C1329.1 295.4 1332.7 295.2 1334.1 295.4C1335.5 295.6 1336.2 296.5 1337.5 296.6C1338.8 296.7 1342.5 296.8 1344.1 296.3C1345.7 295.8 1348.1 293.6 1349.6 292.6C1351.1 291.6 1353.8 288.8 1355.1 288.8C1356.4 288.8 1358.4 291.7 1359.6 292.8C1360.8 293.8 1362.5 296.1 1364.1 296.7C1365.7 297.3 1369.7 297.6 1371.6 297.0C1373.5 296.4 1376.8 292.6 1378.5 292.2C1380.2 291.8 1382.3 293.9 1384.0 294.0C1385.7 294.1 1389.1 293.0 1390.9 293.2C1392.7 293.4 1396.0 295.3 1397.8 295.4C1399.6 295.5 1402.9 293.6 1404.6 293.6C1406.3 293.6 1408.8 295.6 1410.2 295.6C1411.6 295.6 1413.5 293.9 1415.0 293.6C1416.5 293.3 1419.8 293.7 1421.5 293.7C1423.2 293.7 1426.6 293.7 1428.0 293.8C1429.4 293.9 1431.0 294.6 1432.2 294.3C1433.4 294.0 1435.5 292.3 1436.7 291.6C1437.8 290.8 1439.7 288.4 1441.1 288.8C1442.5 289.2 1445.7 292.9 1447.3 294.3C1448.9 295.7 1451.3 298.9 1452.8 299.1C1454.3 299.3 1456.6 297.0 1458.3 295.6C1460.0 294.2 1463.7 289.5 1465.2 288.8C1466.7 288.1 1468.2 289.2 1469.3 290.1C1470.4 291.0 1472.3 294.6 1473.4 295.6C1474.5 296.6 1476.4 297.4 1477.6 297.3C1478.8 297.2 1481.1 295.4 1482.4 294.8C1483.7 294.1 1485.9 292.2 1487.2 292.2C1488.5 292.2 1490.7 294.1 1492.0 294.8C1493.3 295.4 1495.4 297.4 1496.8 297.3C1498.2 297.2 1501.0 294.7 1502.5 293.8C1504.1 292.8 1506.9 290.2 1508.3 290.2C1509.7 290.2 1511.8 292.7 1513.0 293.5C1514.3 294.4 1516.5 296.8 1517.8 296.9C1519.1 297.0 1521.6 295.1 1522.9 294.4C1524.3 293.7 1526.5 291.8 1528.1 291.9C1529.7 292.0 1533.1 294.8 1535.1 295.2C1537.1 295.6 1541.0 294.8 1543.0 295.2C1545.0 295.6 1548.6 298.6 1550.4 298.5C1552.2 298.4 1554.5 295.3 1556.2 294.4C1557.9 293.5 1561.2 292.5 1562.8 291.9C1564.4 291.3 1566.7 290.0 1568.2 290.2C1569.7 290.4 1572.6 292.2 1574.4 293.1C1576.2 294.0 1580.8 296.4 1581.8 296.9" stroke="#d02c40" stroke-width="2.6" fill="none" stroke-linejoin="round" stroke-linecap="round"/>
<path d="M917.0 429.0C917.5 429.3 919.9 431.9 920.7 431.2C921.5 430.5 922.3 425.7 922.9 423.6C923.4 421.6 924.5 418.0 925.0 416.1C925.5 414.2 926.4 411.0 926.9 409.1C927.4 407.3 928.1 404.1 928.8 402.2C929.5 400.3 931.1 395.2 932.0 395.2C932.9 395.2 934.6 400.1 935.2 402.2C935.8 404.3 936.4 408.5 936.9 410.8C937.3 413.1 938.1 417.4 938.5 419.4C938.9 421.4 939.7 424.1 940.1 425.9C940.5 427.6 941.1 432.3 941.7 432.3C942.3 432.3 943.8 427.6 944.4 425.8C945.0 424.0 945.6 420.7 946.0 418.9C946.4 417.0 946.9 413.9 947.6 411.9C948.3 409.9 950.5 404.5 951.4 403.8C952.3 403.1 953.4 404.9 954.0 406.5C954.6 408.1 955.2 413.6 955.6 416.1C956.1 418.7 956.9 424.1 957.3 425.8C957.7 427.5 957.9 429.2 958.3 429.0C958.7 428.8 959.5 425.5 960.0 424.2C960.4 422.9 961.1 420.5 961.6 419.4C962.1 418.3 963.1 415.6 963.7 415.6C964.3 415.6 965.7 417.7 966.4 419.4C967.1 421.1 968.4 427.5 968.9 428.0C969.4 428.5 970.0 424.4 970.3 423.1C970.7 421.9 971.3 419.5 971.8 418.3C972.3 417.1 973.7 414.2 974.4 414.5C975.1 414.8 976.4 418.5 977.1 420.4C977.8 422.3 978.8 428.2 979.3 428.5C979.8 428.8 980.7 424.4 981.1 422.9C981.6 421.3 982.5 418.7 983.0 417.2C983.5 415.7 984.2 412.9 984.6 411.3C985.1 409.7 985.7 407.0 986.3 405.4C986.9 403.8 988.9 399.6 989.5 399.5C990.1 399.4 990.7 403.2 991.1 404.6C991.5 406.0 992.3 407.9 992.7 409.7C993.1 411.5 993.7 416.0 994.0 418.3C994.4 420.6 994.7 426.8 995.4 426.9C996.1 427.0 998.3 420.9 999.2 419.4C1000.1 417.9 1001.6 415.5 1002.4 415.6C1003.2 415.7 1004.5 418.8 1005.1 420.4C1005.7 422.0 1006.3 425.5 1006.7 427.4C1007.1 429.3 1007.8 434.5 1008.3 434.4C1008.8 434.3 1009.7 428.9 1010.1 426.9C1010.6 424.9 1011.5 421.3 1012.0 419.4C1012.5 417.5 1013.4 414.3 1013.9 412.4C1014.4 410.5 1015.1 407.4 1015.8 405.4C1016.5 403.4 1018.1 397.8 1019.0 397.4C1019.9 397.0 1022.1 400.6 1022.8 402.2C1023.5 403.8 1023.8 407.7 1024.2 409.7C1024.5 411.7 1025.0 414.9 1025.5 417.2C1026.0 419.5 1026.9 426.8 1027.6 426.9C1028.3 427.0 1029.5 420.2 1030.4 418.3C1031.3 416.4 1033.2 412.4 1034.1 412.4C1035.0 412.4 1036.3 416.9 1036.8 418.3C1037.3 419.7 1037.8 421.9 1038.2 423.1C1038.5 424.4 1039.1 428.4 1039.5 428.0C1039.9 427.6 1040.9 422.5 1041.4 420.4C1041.9 418.4 1042.6 414.9 1043.3 412.9C1044.0 410.9 1046.1 405.4 1047.0 405.4C1047.9 405.4 1049.6 410.7 1050.2 412.9C1050.8 415.1 1051.2 419.6 1051.6 422.0C1051.9 424.5 1052.3 430.7 1052.9 431.2C1053.5 431.7 1055.5 427.4 1056.1 425.8C1056.7 424.2 1057.3 420.7 1057.8 418.9C1058.2 417.0 1058.9 413.5 1059.4 411.9C1059.9 410.3 1060.8 408.3 1061.2 407.0C1061.7 405.8 1062.3 401.8 1063.1 402.2C1063.9 402.6 1066.1 407.4 1066.9 409.7C1067.7 412.0 1068.1 418.8 1069.0 419.4C1069.9 420.0 1072.3 414.4 1073.3 414.5C1074.3 414.6 1075.7 418.7 1076.6 420.4C1077.5 422.1 1079.1 426.7 1079.8 426.9C1080.5 427.1 1081.4 423.3 1081.9 422.0C1082.5 420.8 1083.4 417.3 1084.1 417.2C1084.8 417.1 1086.5 420.0 1087.3 421.5C1088.1 423.0 1089.4 428.6 1090.0 428.5C1090.6 428.4 1091.4 422.8 1091.8 420.7C1092.3 418.6 1093.2 414.6 1093.7 412.9C1094.2 411.2 1095.1 409.4 1095.6 408.1C1096.1 406.8 1096.8 403.2 1097.5 403.3C1098.2 403.4 1100.0 406.6 1100.7 408.6C1101.4 410.6 1102.3 415.7 1102.8 418.3C1103.4 420.9 1104.5 427.4 1105.0 428.0C1105.5 428.6 1106.4 424.0 1106.9 422.6C1107.4 421.2 1108.1 418.9 1108.8 417.2C1109.5 415.5 1111.1 410.1 1112.0 410.2C1112.9 410.3 1114.6 416.1 1115.2 418.3C1115.8 420.5 1116.4 424.4 1116.8 426.6C1117.2 428.9 1117.9 435.1 1118.4 435.0C1118.9 434.9 1120.0 428.5 1120.6 426.1C1121.1 423.7 1122.1 419.6 1122.7 417.2C1123.3 414.8 1124.3 410.5 1124.8 408.1C1125.4 405.7 1126.1 400.9 1127.0 399.0C1127.9 397.1 1130.3 394.1 1131.3 394.1C1132.3 394.1 1134.0 397.4 1134.6 399.0C1135.2 400.6 1135.7 404.0 1136.0 405.8C1136.4 407.6 1137.1 410.8 1137.5 412.6C1137.8 414.4 1138.5 417.7 1138.9 419.4C1139.3 421.1 1139.9 423.9 1140.2 425.5C1140.6 427.1 1141.1 431.9 1141.6 431.6C1142.1 431.3 1143.1 425.4 1143.7 423.1C1144.3 420.9 1144.9 417.0 1145.8 414.7C1146.7 412.4 1149.3 406.1 1150.4 406.0C1151.5 405.9 1153.3 411.7 1153.9 413.6C1154.5 415.5 1154.9 418.4 1155.2 420.1C1155.6 421.9 1156.2 424.9 1156.6 426.7C1156.9 428.4 1157.4 433.5 1157.9 433.2C1158.4 432.9 1159.4 426.9 1160.0 424.5C1160.5 422.2 1161.5 417.8 1162.0 415.9C1162.5 414.0 1163.5 411.9 1164.0 410.4C1164.5 408.9 1165.3 404.8 1166.0 404.9C1166.7 405.0 1168.9 409.4 1169.5 411.3C1170.1 413.2 1170.5 416.8 1170.9 418.8C1171.2 420.8 1171.9 424.3 1172.2 426.3C1172.6 428.3 1173.1 434.1 1173.6 433.8C1174.1 433.5 1175.3 426.8 1175.9 424.2C1176.5 421.7 1177.7 417.0 1178.2 414.7C1178.7 412.4 1179.5 409.2 1180.0 407.2C1180.4 405.2 1181.0 401.5 1181.7 399.7C1182.4 397.9 1184.1 393.8 1185.1 393.9C1186.1 394.0 1188.5 398.9 1189.2 400.8C1189.9 402.7 1190.0 406.3 1190.3 408.4C1190.7 410.4 1191.2 413.8 1191.5 415.9C1191.8 418.0 1192.6 422.1 1193.0 424.3C1193.3 426.5 1193.9 432.5 1194.4 432.7C1194.9 432.9 1196.1 427.8 1196.7 426.0C1197.3 424.3 1198.3 421.4 1199.0 419.4C1199.7 417.4 1201.1 413.2 1201.9 411.0C1202.7 408.8 1204.2 403.1 1204.8 402.6C1205.4 402.1 1206.1 406.2 1206.5 407.5C1207.0 408.8 1207.9 410.6 1208.3 412.4C1208.7 414.2 1209.4 418.6 1209.8 420.8C1210.1 423.0 1210.7 429.0 1211.2 429.2C1211.7 429.4 1213.1 423.9 1213.8 421.9C1214.5 420.0 1215.7 416.3 1216.4 414.7C1217.1 413.1 1218.1 411.1 1218.7 409.8C1219.3 408.5 1220.3 404.4 1221.0 404.9C1221.7 405.4 1223.4 411.6 1223.9 413.6C1224.4 415.6 1224.7 418.5 1225.1 420.2C1225.4 422.0 1225.7 426.9 1226.2 426.9C1226.7 426.9 1228.1 422.0 1228.8 420.2C1229.5 418.5 1230.7 413.9 1231.4 413.6C1232.1 413.3 1233.8 416.4 1234.3 418.2C1234.8 420.0 1235.1 424.8 1235.4 427.1C1235.8 429.5 1236.2 435.7 1236.6 436.1C1237.0 436.5 1238.1 431.7 1238.7 430.1C1239.2 428.4 1240.1 426.0 1240.7 424.0C1241.3 422.0 1242.4 417.2 1243.0 414.8C1243.6 412.3 1244.7 407.7 1245.3 405.5C1245.9 403.3 1247.0 400.2 1247.7 398.2C1248.3 396.3 1249.1 391.6 1250.0 391.0C1250.9 390.4 1253.8 392.6 1254.6 393.9C1255.4 395.2 1255.5 398.7 1255.8 400.5C1256.1 402.2 1256.6 405.3 1256.9 407.0C1257.2 408.8 1257.7 411.4 1258.1 413.6C1258.5 415.8 1259.3 420.8 1259.8 423.4C1260.2 426.1 1261.0 430.6 1261.4 433.3C1261.9 435.9 1262.6 442.9 1263.1 443.1C1263.6 443.3 1264.8 436.9 1265.4 434.7C1266.0 432.5 1267.1 428.5 1267.7 426.3C1268.3 424.1 1269.1 420.6 1269.6 418.6C1270.1 416.5 1271.1 412.9 1271.6 410.8C1272.1 408.8 1272.9 404.8 1273.5 403.1C1274.1 401.4 1275.2 399.3 1275.8 397.9C1276.4 396.5 1277.2 392.5 1278.1 392.7C1279.0 392.9 1281.5 397.5 1282.2 399.7C1282.9 401.9 1283.3 406.9 1283.7 409.5C1284.0 412.2 1284.8 416.9 1285.1 419.4C1285.4 421.9 1285.9 425.7 1286.2 428.0C1286.6 430.4 1286.9 436.3 1287.4 436.7C1287.9 437.1 1289.1 432.4 1289.7 430.9C1290.3 429.4 1291.5 426.9 1292.0 425.1C1292.5 423.3 1293.1 419.7 1293.6 417.8C1294.0 415.8 1294.7 412.4 1295.1 410.4C1295.6 408.5 1296.0 405.2 1296.7 403.1C1297.4 401.0 1299.6 394.5 1300.7 394.5C1301.8 394.5 1304.1 400.8 1304.8 403.1C1305.5 405.4 1305.9 409.5 1306.2 411.8C1306.6 414.1 1307.4 418.4 1307.7 420.5C1308.0 422.6 1308.4 425.5 1308.7 427.3C1308.9 429.1 1309.4 432.2 1309.6 434.0C1309.9 435.8 1310.2 440.8 1310.6 440.8C1311.0 440.8 1312.0 435.6 1312.5 433.7C1313.0 431.8 1313.9 428.4 1314.4 426.5C1314.9 424.6 1315.8 421.4 1316.3 419.4C1316.8 417.4 1317.8 413.4 1318.3 411.2C1318.9 409.1 1319.7 405.3 1320.4 403.1C1321.1 400.9 1322.4 394.8 1323.3 394.5C1324.2 394.2 1326.1 398.8 1326.8 400.8C1327.5 402.8 1328.0 407.2 1328.5 409.5C1329.0 411.8 1329.9 416.2 1330.2 418.2C1330.5 420.2 1330.9 422.9 1331.1 424.5C1331.3 426.2 1331.5 431.0 1332.0 430.9C1332.5 430.8 1334.3 425.9 1334.9 424.0C1335.5 422.1 1336.1 418.5 1336.6 416.4C1337.1 414.4 1337.6 411.0 1338.3 408.9C1339.0 406.8 1340.9 401.1 1341.8 400.8C1342.7 400.5 1344.1 404.6 1344.7 406.6C1345.3 408.6 1345.8 413.4 1346.2 415.9C1346.5 418.3 1347.1 422.6 1347.6 425.1C1348.1 427.6 1349.4 434.0 1349.9 434.4C1350.4 434.8 1351.0 429.6 1351.4 427.8C1351.8 426.1 1352.6 423.0 1353.0 421.3C1353.4 419.5 1354.1 416.4 1354.5 414.7C1354.9 413.0 1355.6 410.0 1356.0 408.4C1356.3 406.7 1356.8 403.8 1357.4 402.0C1358.0 400.2 1359.4 395.2 1360.3 395.0C1361.2 394.8 1363.1 398.9 1363.8 400.8C1364.5 402.7 1365.1 406.7 1365.5 408.9C1366.0 411.1 1366.9 415.0 1367.3 417.0C1367.7 419.0 1368.1 421.9 1368.4 423.7C1368.7 425.4 1369.3 428.6 1369.6 430.3C1369.9 432.1 1370.2 437.2 1370.7 437.0C1371.2 436.8 1372.6 430.9 1373.2 428.8C1373.9 426.6 1375.1 420.8 1375.8 420.5C1376.5 420.2 1377.7 425.2 1378.4 426.9C1379.1 428.5 1380.3 433.6 1381.0 433.2C1381.7 432.8 1382.9 426.4 1383.6 423.9C1384.3 421.5 1385.5 417.1 1386.2 414.7C1386.9 412.3 1387.9 408.4 1388.5 406.0C1389.1 403.7 1390.0 399.6 1390.8 397.4C1391.6 395.2 1393.4 389.8 1394.3 389.8C1395.2 389.8 1397.1 395.5 1397.8 397.4C1398.5 399.3 1399.1 402.5 1399.5 404.4C1400.0 406.2 1400.6 409.5 1401.3 411.3C1402.0 413.1 1404.1 416.4 1404.7 418.2C1405.3 420.0 1405.5 422.9 1405.8 424.5C1406.2 426.2 1406.7 429.2 1407.0 430.9C1407.3 432.6 1408.1 435.4 1408.5 437.0C1408.8 438.6 1409.4 443.4 1409.9 443.1C1410.4 442.8 1411.4 436.9 1412.0 434.7C1412.5 432.5 1413.5 428.3 1414.0 426.3C1414.5 424.3 1415.3 421.2 1415.8 419.4C1416.2 417.5 1416.8 414.5 1417.5 412.4C1418.2 410.3 1420.0 403.7 1420.9 403.7C1421.8 403.7 1423.7 410.4 1424.4 412.4C1425.1 414.4 1425.7 417.1 1426.2 418.8C1426.6 420.4 1427.4 425.3 1427.9 425.1C1428.4 424.9 1429.6 419.6 1430.2 417.6C1430.8 415.6 1431.9 411.7 1432.5 410.1C1433.1 408.5 1434.0 406.7 1434.5 405.5C1435.1 404.2 1436.1 400.6 1436.6 400.8C1437.1 401.0 1437.8 405.1 1438.3 406.6C1438.8 408.1 1439.5 410.4 1440.0 412.4C1440.5 414.4 1441.5 419.0 1442.0 421.4C1442.6 423.7 1443.4 430.3 1444.1 430.3C1444.8 430.3 1446.2 423.7 1447.0 421.4C1447.8 419.0 1449.2 414.2 1449.9 412.4C1450.6 410.6 1451.4 409.0 1451.9 407.8C1452.4 406.5 1453.2 402.5 1453.9 403.1C1454.6 403.7 1456.7 410.2 1457.4 412.4C1458.1 414.6 1458.5 417.8 1458.9 419.7C1459.3 421.7 1460.1 425.1 1460.5 427.1C1460.9 429.0 1461.6 434.3 1462.0 434.4C1462.4 434.5 1463.3 429.6 1463.7 427.8C1464.2 426.1 1465.0 423.0 1465.5 421.3C1465.9 419.5 1466.3 416.7 1467.2 414.7C1468.1 412.7 1470.8 406.0 1471.9 406.0C1473.0 406.0 1474.6 412.3 1475.3 414.7C1476.0 417.1 1476.6 421.5 1477.0 423.9C1477.5 426.4 1478.3 433.0 1478.8 433.2C1479.3 433.4 1480.1 427.8 1480.6 425.8C1481.1 423.8 1482.0 420.4 1482.5 418.4C1483.0 416.4 1483.7 412.9 1484.3 411.0C1484.9 409.1 1486.1 406.0 1486.8 404.2C1487.5 402.4 1488.7 397.7 1489.3 397.4C1489.9 397.1 1491.0 400.8 1491.6 402.0C1492.2 403.2 1493.4 405.1 1493.9 406.6C1494.4 408.1 1495.2 411.7 1495.7 413.6C1496.1 415.4 1497.0 418.7 1497.4 420.5C1497.8 422.3 1498.2 425.2 1498.6 426.9C1498.9 428.5 1499.2 433.6 1499.7 433.2C1500.2 432.8 1501.6 426.4 1502.3 423.9C1503.0 421.5 1504.2 416.8 1504.9 414.7C1505.6 412.6 1506.6 410.0 1507.2 408.4C1507.8 406.7 1508.9 402.0 1509.5 402.0C1510.1 402.0 1511.0 406.7 1511.5 408.4C1512.1 410.0 1513.1 412.6 1513.6 414.7C1514.1 416.8 1515.1 421.7 1515.6 424.2C1516.1 426.8 1517.1 433.5 1517.6 433.8C1518.1 434.1 1518.9 428.6 1519.3 426.7C1519.8 424.8 1520.6 421.4 1521.1 419.5C1521.5 417.6 1522.2 414.4 1522.8 412.4C1523.4 410.4 1524.9 406.5 1525.7 404.3C1526.5 402.1 1527.9 396.6 1528.6 396.2C1529.3 395.8 1530.1 400.0 1530.7 401.4C1531.2 402.8 1532.2 404.7 1532.7 406.6C1533.2 408.5 1533.7 413.4 1534.0 415.9C1534.4 418.3 1535.0 422.7 1535.4 425.1C1535.7 427.6 1536.3 434.1 1536.7 434.4C1537.1 434.7 1538.0 429.3 1538.4 427.5C1538.9 425.6 1539.7 422.4 1540.2 420.5C1540.6 418.7 1541.4 415.2 1541.9 413.6C1542.4 412.0 1543.6 409.8 1544.2 408.4C1544.9 407.0 1546.1 402.9 1546.6 403.1C1547.1 403.3 1547.8 408.2 1548.3 410.1C1548.8 411.9 1549.6 415.4 1550.0 417.0C1550.4 418.6 1550.8 420.9 1551.2 422.2C1551.5 423.6 1551.9 427.7 1552.3 427.5C1552.7 427.3 1553.8 422.4 1554.3 420.6C1554.9 418.7 1555.7 415.5 1556.4 413.6C1557.1 411.7 1559.2 406.8 1559.9 406.6C1560.6 406.4 1561.1 410.4 1561.6 411.8C1562.1 413.2 1562.7 415.1 1563.3 417.0C1563.9 418.9 1565.3 426.3 1566.2 426.3C1567.1 426.3 1568.8 419.2 1569.7 417.0C1570.6 414.8 1571.7 409.3 1572.6 409.5C1573.5 409.7 1575.8 416.0 1576.6 418.2C1577.4 420.4 1577.9 423.7 1578.3 425.7C1578.8 427.7 1579.6 432.9 1580.1 433.2C1580.6 433.5 1581.6 429.4 1582.2 428.0C1582.7 426.6 1583.6 424.6 1584.2 422.8C1584.8 421.0 1586.2 415.8 1586.5 414.7" stroke="#3a3a3a" stroke-width="2.6" fill="none" stroke-linejoin="round" stroke-linecap="round"/>
<path d="M126 44.9H184.7" stroke="#1a5cc0" stroke-width="2.6"/>
<text x="188.8" y="53.8" class="lg">surface after oxide removal (oxidized once)</text>
<path d="M126 77.4H184.7" stroke="#d02c40" stroke-width="2.6"/>
<text x="188.8" y="86.0" class="lg">surface after oxide removal (oxidized twice)</text>
<path d="M126 109.6H184.7" stroke="#3a3a3a" stroke-width="2.6"/>
<text x="188.8" y="118.2" class="lg">as-grown surface</text>
<path d="M936.7 43.1H994.7" stroke="#1a5cc0" stroke-width="2.6"/>
<text x="1000.0" y="50.6" class="lg">surface after oxide removal (oxidized once)</text>
<path d="M936.7 75.6H994.7" stroke="#d02c40" stroke-width="2.6"/>
<text x="1000.0" y="82.8" class="lg">surface after oxide removal (oxidized twice)</text>
<path d="M936.7 107.5H994.7" stroke="#3a3a3a" stroke-width="2.6"/>
<text x="1000.0" y="115.0" class="lg">as-grown surface</text>
<text x="684.8" y="74.2" class="pl">(a)</text>
<text x="1500.3" y="74.2" class="pl">(b)</text>
<text x="549.4" y="138.9" class="nt">1350°C, 24 hours</text>
<text x="1368.8" y="138.9" class="nt">1350°C, 24 hours</text>
<text x="433.5" y="598.1" class="at" text-anchor="middle">horizontal distance (μm)</text>
<text x="1251.5" y="598.1" class="at" text-anchor="middle">horizontal distance (μm)</text>
<text transform="translate(22.9 264.6) rotate(-90)" class="ay" text-anchor="middle">vertical distance (nm)</text>
<text transform="translate(840.5 262.6) rotate(-90)" class="ay" text-anchor="middle">vertical distance (nm)</text>
</svg>
</body></html>
